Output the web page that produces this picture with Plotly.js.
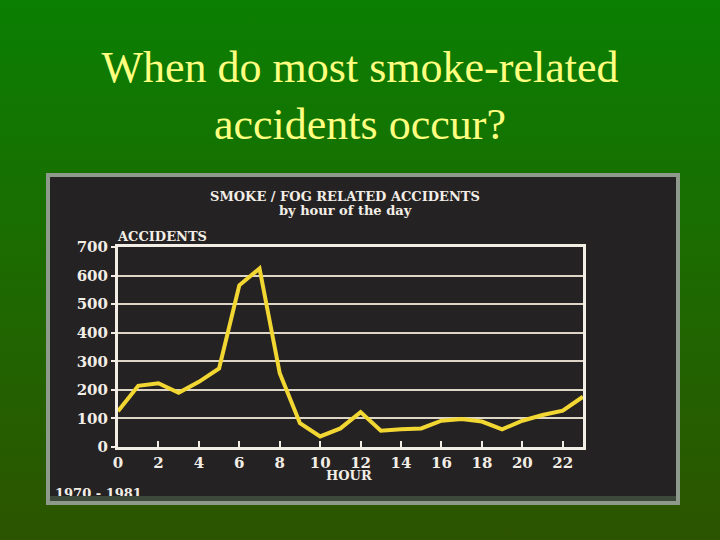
<!DOCTYPE html>
<html>
<head>
<meta charset="utf-8">
<script src="https://cdn.plot.ly/plotly-3.0.1.min.js"></script>
<style>
  html, body { margin: 0; padding: 0; }
  body { width: 720px; height: 540px; background: linear-gradient(to bottom, #0a7f02 0%, #1d6a01 50%, #2c5400 100%); position: relative; overflow: hidden; }
  #chart { width: 720px; height: 540px; position: absolute; left: 0; top: 0; }
  #clip { position: absolute; left: 46px; top: 496px; width: 626px; height: 5px; background: #3d4a3b; border-left: 4px solid #8e9a8c; border-right: 4px solid #8e9a8c; border-bottom: 4px solid #8e9a8c; }
</style>
</head>
<body>
<div id="chart"></div>
<div id="clip"></div>
<script>
// Data
const hours = [0, 1, 2, 3, 4, 5, 6, 7, 8, 9, 10, 11, 12, 13, 14, 15, 16, 17, 18, 19, 20, 21, 22, 23];
const accidents = [125, 214, 223, 190, 228, 275, 566, 625, 258, 83, 37, 65, 122, 57, 62, 65, 92, 98, 89, 62, 92, 112, 127, 176];
const xTickVals = [0, 2, 4, 6, 8, 10, 12, 14, 16, 18, 20, 22];
const xTickText = ['0', '2', '4', '6', '8', '10', '12', '14', '16', '18', '20', '22'];
const yTickVals = [0, 100, 200, 300, 400, 500, 600, 700];
const yTickText = ['0', '100', '200', '300', '400', '500', '600', '700'];

const pageTitle = 'When do most smoke-related<br>accidents occur?';
const chartTitle1 = 'SMOKE / FOG RELATED ACCIDENTS';
const chartTitle2 = 'by hour of the day';
const yLabel = 'ACCIDENTS';
const xLabel = 'HOUR';
const period = '1970 - 1981';

// plot area in pixels
const L = 118, R = 583, T = 247, B = 447;
const px = v => (v - L) / (R - L);
const py = v => (B - v) / (B - T);

const txt = '#f2eee6';
const serif = 'DejaVu Serif, serif';

const trace = {
  x: hours, y: accidents, type: 'scatter', mode: 'lines',
  line: { color: '#f2d733', width: 4 },
  hoverinfo: 'skip'
};

const layout = {
  width: 720, height: 540,
  margin: { l: L, r: 720 - R, t: T, b: 540 - B, pad: 0 },
  paper_bgcolor: 'rgba(0,0,0,0)',
  plot_bgcolor: 'rgba(0,0,0,0)',
  showlegend: false,
  title: {
    text: pageTitle,
    font: { family: 'Liberation Serif, Times New Roman, serif', size: 44, color: '#ffff80' },
    x: 0.5, xref: 'container', xanchor: 'center',
    y: 1 - 82 / 540, yref: 'container', yanchor: 'middle'
  },
  xaxis: {
    range: [0, 23], showgrid: false, zeroline: false,
    showline: true, mirror: true, linecolor: txt, linewidth: 3,
    tickmode: 'array', tickvals: xTickVals, ticktext: xTickText,
    ticks: 'inside', ticklen: 6, tickwidth: 2, tickcolor: txt,
    tickfont: { family: serif, size: 15, color: txt, weight: 'bold' },
    fixedrange: true
  },
  yaxis: {
    range: [0, 700], zeroline: false,
    showgrid: true, gridcolor: '#ddd5c6', gridwidth: 2,
    showline: true, mirror: true, linecolor: txt, linewidth: 3,
    tickmode: 'array', tickvals: yTickVals, ticktext: yTickText,
    ticks: 'outside', ticklen: 4, tickwidth: 2, tickcolor: txt,
    tickfont: { family: serif, size: 15, color: txt, weight: 'bold' },
    fixedrange: true
  },
  shapes: [
    { type: 'rect', xref: 'paper', yref: 'paper', layer: 'below',
      x0: px(48), x1: px(678), y0: py(503), y1: py(175),
      fillcolor: '#252224', line: { color: '#8e9a8c', width: 4 } }
  ],
  annotations: [
    { text: chartTitle1, xref: 'paper', yref: 'paper', x: px(345), y: py(196), xanchor: 'center', yanchor: 'middle', showarrow: false,
      font: { family: serif, size: 13, color: txt, weight: 'bold' } },
    { text: chartTitle2, xref: 'paper', yref: 'paper', x: px(345), y: py(210), xanchor: 'center', yanchor: 'middle', showarrow: false,
      font: { family: serif, size: 13, color: txt, weight: 'bold' } },
    { text: yLabel, xref: 'paper', yref: 'paper', x: px(115), y: py(236), xanchor: 'left', yanchor: 'middle', showarrow: false,
      font: { family: serif, size: 13, color: txt, weight: 'bold' } },
    { text: xLabel, xref: 'paper', yref: 'paper', x: px(349), y: py(475), xanchor: 'center', yanchor: 'middle', showarrow: false,
      font: { family: serif, size: 13, color: txt, weight: 'bold' } },
    { text: period, xref: 'paper', yref: 'paper', x: px(53), y: py(484), xanchor: 'left', yanchor: 'top', showarrow: false,
      font: { family: serif, size: 13, color: txt, weight: 'bold' } }
  ]
};

Plotly.newPlot('chart', [trace], layout, { displayModeBar: false, staticPlot: true });
</script>
</body>
</html>
